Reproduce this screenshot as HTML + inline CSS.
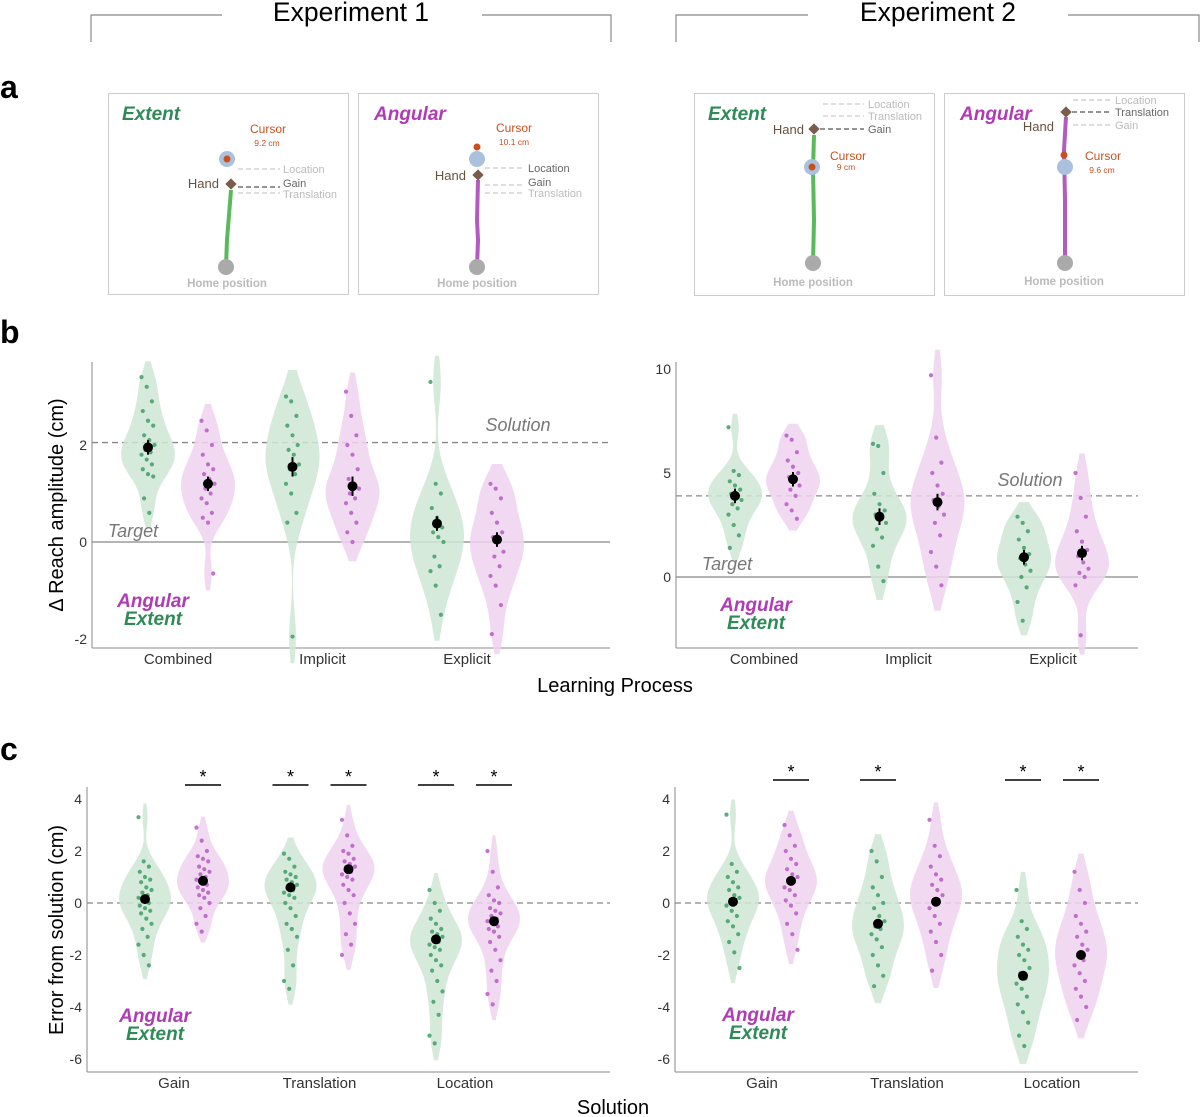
<!DOCTYPE html>
<html><head><meta charset="utf-8"><style>
body{margin:0;background:#fff;}
svg{display:block;font-family:"Liberation Sans",sans-serif;}
</style></head><body>
<svg id="fig" width="1200" height="1117" viewBox="0 0 1200 1117">
<g fill="none" stroke="#888" stroke-width="1.2">
<polyline points="91,42 91,15 222,15"/><polyline points="482,15 611,15 611,42"/>
<polyline points="676,42 676,15 808,15"/><polyline points="1068,15 1199,15 1199,42"/>
</g>
<text x="351" y="21" font-size="26.5" text-anchor="middle">Experiment 1</text>
<text x="938" y="21" font-size="26.5" text-anchor="middle">Experiment 2</text>
<text x="0" y="98" font-size="32" font-weight="bold">a</text>
<text x="0" y="343" font-size="32" font-weight="bold">b</text>
<text x="0" y="760" font-size="32" font-weight="bold">c</text>

<!-- Panel a -->
<g>
<rect x="108.5" y="93.5" width="240" height="201" fill="#fff" stroke="#ccc"/>
<text x="122" y="120" font-size="19" font-weight="bold" font-style="italic" fill="#2e8b57">Extent</text>
<text x="268" y="133" font-size="12" fill="#c8501e" text-anchor="middle">Cursor</text>
<text x="267" y="146" font-size="8.5" fill="#c8501e" text-anchor="middle">9.2 cm</text>
<g stroke-dasharray="5,3" stroke-width="1.2"><line x1="238" y1="169" x2="280" y2="169" stroke="#ccc"/><line x1="238" y1="187" x2="280" y2="187" stroke="#555"/><line x1="238" y1="193" x2="280" y2="193" stroke="#ccc"/></g>
<text x="283" y="173" font-size="11" fill="#bbb">Location</text><text x="283" y="187" font-size="11" fill="#666">Gain</text><text x="283" y="198" font-size="11" fill="#bbb">Translation</text>
<path d="M231,190 L229,215 L227,240 L226,267" stroke="#5cb85c" stroke-width="4" fill="none"/>
<circle cx="227" cy="159" r="8" fill="#a9c1dd"/><circle cx="227" cy="159" r="3.5" fill="#c8501e"/>
<rect x="227" y="180" width="8" height="8" fill="#7a5c4c" transform="rotate(45 231 184)"/>
<text x="219" y="188" font-size="13" fill="#6b5040" text-anchor="end">Hand</text>
<circle cx="226" cy="267" r="8" fill="#aaa"/>
<text x="227" y="287" font-size="11.5" font-weight="bold" fill="#bbb" text-anchor="middle">Home position</text>
</g>
<g>
<rect x="358.5" y="93.5" width="240" height="201" fill="#fff" stroke="#ccc"/>
<text x="374" y="120" font-size="19" font-weight="bold" font-style="italic" fill="#b03cb4">Angular</text>
<text x="514" y="132" font-size="12" fill="#c8501e" text-anchor="middle">Cursor</text>
<text x="514" y="145" font-size="8.5" fill="#c8501e" text-anchor="middle">10.1 cm</text>
<g stroke-dasharray="5,3" stroke-width="1.2"><line x1="485" y1="168" x2="525" y2="168" stroke="#ccc"/><line x1="485" y1="185" x2="525" y2="185" stroke="#ccc"/><line x1="485" y1="193" x2="525" y2="193" stroke="#ccc"/></g>
<text x="528" y="172" font-size="11" fill="#666">Location</text><text x="528" y="186" font-size="11" fill="#666">Gain</text><text x="528" y="197" font-size="11" fill="#bbb">Translation</text>
<path d="M478,180 L477,220 L478,240 L477,267" stroke="#b05cc0" stroke-width="4" fill="none"/>
<circle cx="477" cy="159" r="8" fill="#a9c1dd"/><circle cx="477" cy="147" r="3.5" fill="#c8501e"/>
<rect x="474" y="171" width="8" height="8" fill="#7a5c4c" transform="rotate(45 478 175)"/>
<text x="466" y="180" font-size="13" fill="#6b5040" text-anchor="end">Hand</text>
<circle cx="477" cy="267" r="8" fill="#aaa"/>
<text x="477" y="287" font-size="11.5" font-weight="bold" fill="#bbb" text-anchor="middle">Home position</text>
</g>
<g>
<rect x="694.5" y="93.5" width="240" height="202" fill="#fff" stroke="#ccc"/>
<text x="708" y="120" font-size="19" font-weight="bold" font-style="italic" fill="#2e8b57">Extent</text>
<g stroke-dasharray="5,3" stroke-width="1.2"><line x1="823" y1="104" x2="864" y2="104" stroke="#ccc"/><line x1="823" y1="116" x2="864" y2="116" stroke="#ccc"/><line x1="820" y1="129" x2="864" y2="129" stroke="#555"/></g>
<text x="868" y="108" font-size="11" fill="#bbb">Location</text><text x="868" y="120" font-size="11" fill="#bbb">Translation</text><text x="868" y="133" font-size="11" fill="#666">Gain</text>
<path d="M814,135 L813,170 L814,220 L813,263" stroke="#5cb85c" stroke-width="4" fill="none"/>
<rect x="810" y="125" width="8" height="8" fill="#7a5c4c" transform="rotate(45 814 129)"/>
<text x="804" y="134" font-size="13" fill="#6b5040" text-anchor="end">Hand</text>
<text x="848" y="160" font-size="12" fill="#c8501e" text-anchor="middle">Cursor</text>
<text x="846" y="170" font-size="8.5" fill="#c8501e" text-anchor="middle">9 cm</text>
<circle cx="812" cy="167" r="8" fill="#a9c1dd"/><circle cx="812" cy="167" r="3.5" fill="#c8501e"/>
<circle cx="813" cy="263" r="8" fill="#aaa"/>
<text x="813" y="286" font-size="11.5" font-weight="bold" fill="#bbb" text-anchor="middle">Home position</text>
</g>
<g>
<rect x="944.5" y="93.5" width="240" height="202" fill="#fff" stroke="#ccc"/>
<text x="960" y="120" font-size="19" font-weight="bold" font-style="italic" fill="#b03cb4">Angular</text>
<g stroke-dasharray="5,3" stroke-width="1.2"><line x1="1073" y1="100" x2="1112" y2="100" stroke="#ccc"/><line x1="1072" y1="112" x2="1112" y2="112" stroke="#555"/><line x1="1073" y1="125" x2="1112" y2="125" stroke="#ccc"/></g>
<text x="1115" y="104" font-size="11" fill="#bbb">Location</text><text x="1115" y="116" font-size="11" fill="#666">Translation</text><text x="1115" y="129" font-size="11" fill="#bbb">Gain</text>
<path d="M1066,117 L1064,150 L1065,200 L1065,263" stroke="#b05cc0" stroke-width="4" fill="none"/>
<rect x="1062" y="108" width="8" height="8" fill="#7a5c4c" transform="rotate(45 1066 112)"/>
<text x="1054" y="131" font-size="13" fill="#6b5040" text-anchor="end">Hand</text>
<circle cx="1065" cy="167" r="8" fill="#a9c1dd"/><circle cx="1064" cy="155" r="3.5" fill="#c8501e"/>
<text x="1103" y="160" font-size="12" fill="#c8501e" text-anchor="middle">Cursor</text>
<text x="1102" y="173" font-size="8.5" fill="#c8501e" text-anchor="middle">9.6 cm</text>
<circle cx="1065" cy="263" r="8" fill="#aaa"/>
<text x="1064" y="285" font-size="11.5" font-weight="bold" fill="#bbb" text-anchor="middle">Home position</text>
</g>

<text x="0" y="0" transform="translate(63,505) rotate(-90)" font-size="20" text-anchor="middle">Δ Reach amplitude (cm)</text>
<text x="615" y="692" font-size="20" text-anchor="middle">Learning Process</text>
<text x="0" y="0" transform="translate(63,930) rotate(-90)" font-size="20" text-anchor="middle">Error from solution (cm)</text>
<text x="613" y="1114" font-size="20" text-anchor="middle">Solution</text>
</svg>
<script>
// ---- data ----
const bCategories = ["Combined","Implicit","Explicit"];
const cCategories = ["Gain","Translation","Location"];
const b1Ticks = [-2,0,2];
const b2Ticks = [0,5,10];
const cTicks = [-6,-4,-2,0,2,4];
const b1ExtCombined=[3.4,3.2,2.9,2.7,2.5,2.4,2.2,2.1,2.0,1.9,1.85,1.8,1.7,1.6,1.5,1.4,1.35,0.9,0.6];
const b1AngCombined=[2.5,2.3,2.0,1.8,1.6,1.5,1.4,1.3,1.2,1.1,1.0,0.9,0.8,0.6,0.5,0.4,-0.65];
const b1ExtImplicit=[3.0,2.9,2.6,2.4,2.2,2.0,1.9,1.8,1.6,1.5,1.4,1.2,1.0,0.6,0.4,-1.95];
const b1AngImplicit=[3.1,2.6,2.2,2.0,1.8,1.5,1.3,1.2,1.1,1.0,0.9,0.8,0.6,0.4,0.2,0.0];
const b1ExtExplicit=[3.3,1.2,1.0,0.7,0.5,0.3,0.2,0.1,0.0,-0.3,-0.5,-0.6,-0.9,-1.5];
const b1AngExplicit=[1.2,1.1,0.9,0.6,0.4,0.2,0.1,0.0,-0.2,-0.3,-0.5,-0.7,-0.9,-1.3,-1.9];
const b1ExtMeans=[1.95,1.55,0.38];
const b1AngMeans=[1.2,1.15,0.05];
const b1Err=[0.15,0.2,0.15];
const b1Solution=2.05;
const b2ExtCombined=[7.2,5.1,4.9,4.6,4.4,4.2,4.0,3.9,3.7,3.5,3.3,3.0,2.5,2.0,1.4];
const b2AngCombined=[6.8,6.6,6.0,5.6,5.3,5.0,4.8,4.6,4.4,4.2,3.9,3.5,3.2,2.8];
const b2ExtImplicit=[6.4,6.3,5.0,4.0,3.5,3.2,3.0,2.8,2.6,2.3,1.9,1.5,0.5,-0.2];
const b2AngImplicit=[9.7,6.7,5.5,5.0,4.4,4.0,3.7,3.4,3.0,2.6,2.0,1.2,0.5,-0.4];
const b2ExtExplicit=[2.9,2.6,2.2,1.8,1.4,1.1,0.9,0.6,0.3,0.0,-0.5,-1.2,-2.1];
const b2AngExplicit=[5.0,3.8,2.9,2.2,1.7,1.3,1.0,0.7,0.4,0.2,0.0,-0.4,-2.8];
const b2ExtMeans=[3.9,2.9,0.95];
const b2AngMeans=[4.7,3.6,1.15];
const b2Err=[0.35,0.4,0.35];
const b2Solution=3.9;
const c1ExtGain=[3.3,1.6,1.4,1.2,1.0,0.9,0.8,0.6,0.5,0.4,0.3,0.2,0.1,0.0,-0.1,-0.2,-0.3,-0.4,-0.6,-0.8,-1.0,-1.3,-1.6,-2.0,-2.4];
const c1AngGain=[2.9,2.4,2.0,1.8,1.7,1.6,1.4,1.3,1.2,1.1,1.0,0.9,0.8,0.7,0.6,0.5,0.4,0.3,0.2,0.0,-0.2,-0.5,-0.8,-1.1];
const c1ExtTranslation=[1.9,1.7,1.4,1.2,1.1,1.0,0.9,0.8,0.7,0.6,0.5,0.4,0.3,0.2,0.0,-0.2,-0.5,-0.8,-1.0,-1.3,-1.8,-2.4,-3.0,-3.3];
const c1AngTranslation=[3.2,2.6,2.2,2.0,1.9,1.7,1.6,1.5,1.4,1.3,1.2,1.1,1.0,0.9,0.7,0.5,0.3,0.0,-0.4,-0.8,-1.2,-1.6,-2.0];
const c1ExtLocation=[0.5,0.0,-0.3,-0.6,-0.8,-1.0,-1.1,-1.2,-1.3,-1.4,-1.5,-1.6,-1.7,-1.8,-2.0,-2.2,-2.4,-2.6,-3.0,-3.4,-3.8,-4.3,-5.1,-5.4];
const c1AngLocation=[2.0,1.2,0.6,0.3,0.1,0.0,-0.2,-0.3,-0.4,-0.5,-0.6,-0.7,-0.8,-0.9,-1.0,-1.1,-1.3,-1.5,-1.8,-2.2,-2.6,-3.0,-3.5,-3.9];
const c1ExtMeans=[0.15,0.6,-1.4];
const c1AngMeans=[0.85,1.3,-0.7];
const c1ExtStars=[false,true,true];
const c1AngStars=[true,true,true];
const c2ExtGain=[3.4,1.5,1.2,1.0,0.8,0.6,0.5,0.3,0.2,0.1,0.0,-0.1,-0.3,-0.5,-0.7,-0.9,-1.2,-1.5,-1.9,-2.5];
const c2AngGain=[3.0,2.6,2.2,2.0,1.7,1.5,1.3,1.1,1.0,0.9,0.8,0.6,0.5,0.3,0.1,-0.1,-0.4,-0.8,-1.2,-1.8];
const c2ExtTranslation=[2.0,1.6,1.0,0.6,0.3,0.0,-0.2,-0.5,-0.7,-0.9,-1.0,-1.2,-1.4,-1.7,-2.0,-2.4,-2.8,-3.2];
const c2AngTranslation=[3.2,2.2,1.8,1.4,1.1,0.9,0.7,0.5,0.3,0.1,0.0,-0.2,-0.5,-0.8,-1.1,-1.5,-2.0,-2.6];
const c2ExtLocation=[0.5,-0.7,-1.0,-1.3,-1.6,-1.8,-2.0,-2.2,-2.5,-2.7,-2.9,-3.1,-3.3,-3.6,-3.9,-4.2,-4.6,-5.1,-5.5];
const c2AngLocation=[1.2,0.5,0.0,-0.5,-0.8,-1.1,-1.3,-1.6,-1.8,-2.0,-2.2,-2.4,-2.7,-3.0,-3.3,-3.6,-4.0,-4.5];
const c2ExtMeans=[0.05,-0.8,-2.8];
const c2AngMeans=[0.85,0.05,-2.0];
const c2ExtStars=[false,true,true];
const c2AngStars=[true,false,true];
const cErr=[0.12,0.12,0.12];

const NS="http://www.w3.org/2000/svg";
const svg=document.getElementById('fig');
function el(tag,attrs,parent,text){const e=document.createElementNS(NS,tag);for(const k in attrs)e.setAttribute(k,attrs[k]);if(text!==undefined)e.textContent=text;(parent||svg).appendChild(e);return e;}

function panel(p){
  const g=el('g',{});
  
  
  const y=v=>p.y0-v*p.ppu;
  const xc=i=>p.x0+p.catGap*i;
  el('line',{x1:p.axL,y1:p.axT,x2:p.axL,y2:p.axB,stroke:'#888','stroke-width':1},g);
  el('line',{x1:p.axL,y1:p.axB,x2:p.axR,y2:p.axB,stroke:'#888','stroke-width':1},g);
  p.ticks.forEach(t=>{
    const tl=el('text',{x:p.axL-5,y:y(t)+5,'font-size':14,'text-anchor':'end',fill:'#333'},g,String(t));
    
    
  });
  p.cats.forEach((c,i)=>{
    const cl=el('text',{x:xc(i),y:p.axB+16,'font-size':15,'text-anchor':'middle',fill:'#333'},g,c);
    
    
  });
  if(p.zeroSolid) el('line',{x1:p.axL,y1:y(0),x2:p.axR,y2:y(0),stroke:'#888','stroke-width':1.3},g);
  el('line',{x1:p.axL,y1:y(p.dashV),x2:p.axR,y2:y(p.dashV),stroke:'#888','stroke-width':1.3,'stroke-dasharray':'6,4'},g);
  const groups=[[p.ext,p.extMeans,-p.off,'#cfe6d6','#3f9e66',p.extStars],[p.ang,p.angMeans,p.off,'#efd3ef','#b75ac4',p.angStars]];
  groups.forEach(([sets,means,off,fill,dot,stars])=>{
    sets.forEach((vals,i)=>{
      const cx=xc(i)+off;
      const n=vals.length, mu=vals.reduce((a,b)=>a+b,0)/n;
      const sd=Math.sqrt(vals.reduce((a,b)=>a+(b-mu)*(b-mu),0)/n);
      const bw=0.75*sd*Math.pow(n,-0.2);
      const lo=Math.min(...vals)-bw*1.1, hi=Math.max(...vals)+bw*1.1;
      const N=70, dens=[];
      for(let k=0;k<=N;k++){const v=lo+(hi-lo)*k/N;let d=0;vals.forEach(x=>{d+=Math.exp(-0.5*((v-x)/bw)**2)});dens.push([v,d]);}
      const mx=Math.max(...dens.map(d=>d[1]));
      let path='M'+dens.map(([v,d])=>(cx+d/mx*p.vw).toFixed(1)+','+y(v).toFixed(1)).join(' L');
      path+=' L'+dens.slice().reverse().map(([v,d])=>(cx-d/mx*p.vw).toFixed(1)+','+y(v).toFixed(1)).join(' L')+'Z';
      const vp=el('path',{d:path,fill:fill,'fill-opacity':0.85},g);
      
      
      vals.forEach((v,j)=>{
        const jit=((j*37)%11-5)*1.3;
        const c=el('circle',{cx:cx+jit,cy:y(v),r:2.1,fill:dot,'fill-opacity':0.85},g);
        
        
      });
      const e=p.err[i];
      el('line',{x1:cx,y1:y(means[i]-e),x2:cx,y2:y(means[i]+e),stroke:'#000','stroke-width':2},g);
      const m=el('circle',{cx:cx,cy:y(means[i]),r:5,fill:'#000'},g);
      
      
      if(stars&&stars[i]){
        el('line',{x1:cx-18,y1:p.starY,x2:cx+18,y2:p.starY,stroke:'#000','stroke-width':1.5},g);
        const s=el('text',{x:cx,y:p.starY-2,'font-size':18,'text-anchor':'middle'},g,'*');
        
        
      }
    });
  });
  const la=el('text',{x:p.legX,y:p.legY,'font-size':19,'font-weight':'bold','font-style':'italic',fill:'#b03cb4','text-anchor':'middle'},g,'Angular');
  
  
  const le=el('text',{x:p.legX,y:p.legY+18,'font-size':19,'font-weight':'bold','font-style':'italic',fill:'#2e8b57','text-anchor':'middle'},g,'Extent');
  
  
  if(p.solLbl){
    const s=el('text',{x:p.solLbl[0],y:p.solLbl[1],'font-size':18,'font-style':'italic',fill:'#777','text-anchor':'middle'},g,'Solution');
    
    
    const t=el('text',{x:p.tgtLbl[0],y:p.tgtLbl[1],'font-size':18,'font-style':'italic',fill:'#777','text-anchor':'middle'},g,'Target');
    
    
  }
}

panel({name:'panel-b-exp1',y0:542,ppu:48.5,x0:178,catGap:144.5,off:30,vw:27,axL:92,axR:610,axT:362,axB:648,ticks:b1Ticks,cats:bCategories,zeroSolid:true,dashV:b1Solution,
  ext:[b1ExtCombined,b1ExtImplicit,b1ExtExplicit],ang:[b1AngCombined,b1AngImplicit,b1AngExplicit],extMeans:b1ExtMeans,angMeans:b1AngMeans,err:b1Err,
  legX:153,legY:607,solLbl:[518,431],tgtLbl:[133,537]});
panel({name:'panel-b-exp2',y0:577,ppu:20.8,x0:764,catGap:144.5,off:29,vw:27,axL:676,axR:1138,axT:362,axB:648,ticks:b2Ticks,cats:bCategories,zeroSolid:true,dashV:b2Solution,
  ext:[b2ExtCombined,b2ExtImplicit,b2ExtExplicit],ang:[b2AngCombined,b2AngImplicit,b2AngExplicit],extMeans:b2ExtMeans,angMeans:b2AngMeans,err:b2Err,
  legX:756,legY:611,solLbl:[1030,486],tgtLbl:[727,570]});
panel({name:'panel-c-exp1',y0:903,ppu:26,x0:174,catGap:145.5,off:29,vw:26,axL:87,axR:610,axT:787,axB:1072,ticks:cTicks,cats:cCategories,zeroSolid:false,dashV:0,
  ext:[c1ExtGain,c1ExtTranslation,c1ExtLocation],ang:[c1AngGain,c1AngTranslation,c1AngLocation],extMeans:c1ExtMeans,angMeans:c1AngMeans,err:cErr,
  extStars:c1ExtStars,angStars:c1AngStars,starY:785,legX:155,legY:1022});
panel({name:'panel-c-exp2',y0:903,ppu:26,x0:762,catGap:145,off:29,vw:26,axL:675,axR:1138,axT:787,axB:1072,ticks:cTicks,cats:cCategories,zeroSolid:false,dashV:0,
  ext:[c2ExtGain,c2ExtTranslation,c2ExtLocation],ang:[c2AngGain,c2AngTranslation,c2AngLocation],extMeans:c2ExtMeans,angMeans:c2AngMeans,err:cErr,
  extStars:c2ExtStars,angStars:c2AngStars,starY:780,legX:758,legY:1021});
</script>
</body></html>
